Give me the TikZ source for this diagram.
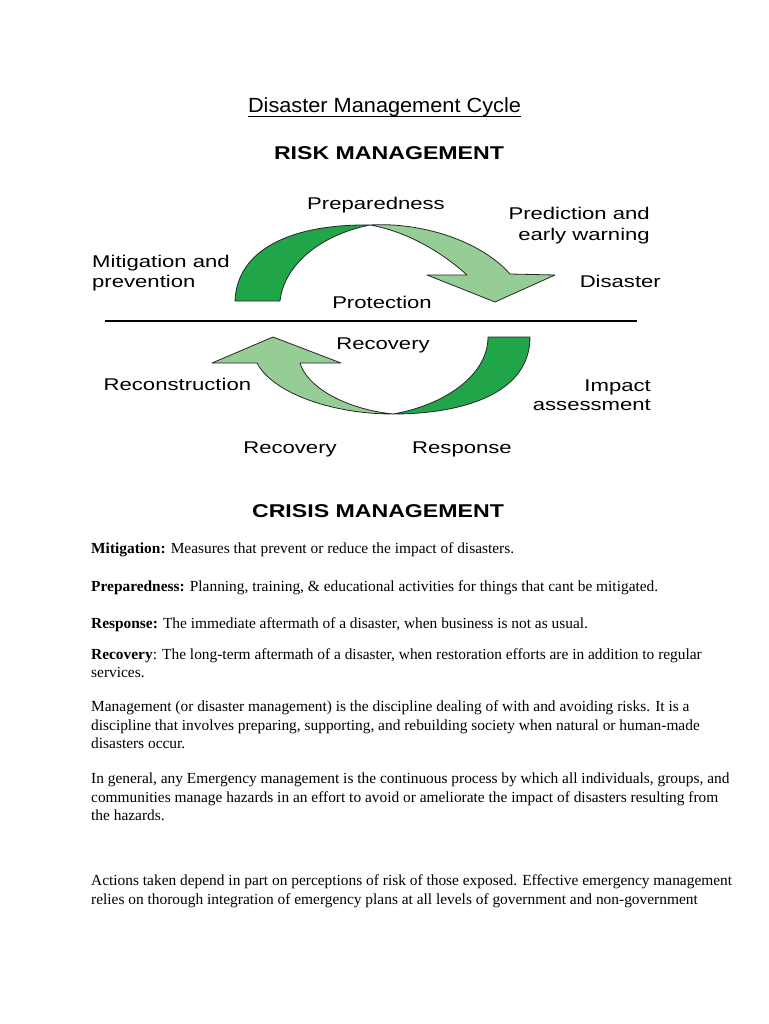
\documentclass[tikz,border=0pt]{standalone}
\usepackage{fontspec}
\setmainfont{Liberation Serif}
\newfontfamily\arialf{Liberation Sans}
\usepackage{graphicx}
\definecolor{dgreen}{RGB}{32,166,72}
\definecolor{lgreen}{RGB}{150,205,150}
\newcommand{\dl}[1]{\scalebox{1.3}[1]{#1}}
\newcommand{\hl}[1]{\scalebox{1.25}[1]{#1}}
\begin{document}
\begin{tikzpicture}[x=1pt,y=-1pt,
  body/.style={anchor=base west, inner sep=0pt, font=\fontsize{15.4}{18.6}\selectfont},
  dlab/.style={anchor=base, inner sep=0pt, font=\arialf\fontsize{17}{20}\selectfont},
  dlabr/.style={dlab, anchor=base east},
  dlabl/.style={dlab, anchor=base west},
  heading/.style={anchor=base, inner sep=0pt, font=\arialf\bfseries\fontsize{18.5}{22}\selectfont},
  darc/.style={fill=dgreen, draw=black!85, line width=0.8pt, line join=round},
  larc/.style={fill=lgreen, draw=black!85, line width=0.8pt, line join=round}]
\useasboundingbox[fill=white] (0,0) rectangle (768,1024);

% title
\node[anchor=base, inner sep=0pt, font=\arialf\fontsize{20.5}{24}\selectfont] (title) at (384.5,112.5) {\scalebox{1.06}[1]{Disaster Management Cycle}};
\coordinate (ulA) at (248,116.5);
\coordinate (ulB) at (521,116.5);
\draw[line width=1.5pt] (ulA) -- (ulB);

\node[heading] (risk) at (389,160) {\hl{RISK MANAGEMENT}};
\node[heading] (crisis) at (378,517) {\hl{CRISIS MANAGEMENT}};

% upper arrow (risk management)
\draw[darc] (235,301) .. controls (237,250) and (290,224) .. (370,225)
  .. controls (320,235) and (284,265) .. (280,301) -- cycle;
\draw[larc] (370,225) .. controls (420,222) and (480,240) .. (510,274)
  -- (555,275) -- (495,302) -- (427,275) -- (467,275)
  .. controls (445,255) and (410,232) .. (370,225) -- cycle;

% separator
\coordinate (sepA) at (105,321);
\coordinate (sepB) at (637,321);
\draw[line width=2.2pt] (sepA) -- (sepB);

% lower arrow (crisis management)
\draw[darc] (530,337) .. controls (530,395) and (460,414) .. (393,414)
  .. controls (445,405) and (488,375) .. (488,337) -- cycle;
\draw[larc] (393,414) .. controls (330,414) and (272,392) .. (257,363)
  -- (212,363) -- (273,337) -- (341,363) -- (300,363)
  .. controls (307,387) and (345,409) .. (393,414) -- cycle;

% diagram labels
\node[dlab] (prep) at (376,210) {\dl{Preparedness}};
\node[dlabr] (pred1) at (650,220) {\dl{Prediction and}};
\node[dlabr] (pred2) at (650,240.5) {\dl{early warning}};
\node[dlabl] (mit1) at (92,267) {\dl{Mitigation and}};
\node[dlabl] (mit2) at (92,287) {\dl{prevention}};
\node[dlabr] (dis) at (661,287) {\dl{Disaster}};
\node[dlab] (prot) at (382,308.5) {\dl{Protection}};
\node[dlab] (rec1) at (383,349) {\dl{Recovery}};
\node[dlabl] (recon) at (103.5,390) {\dl{Reconstruction}};
\node[dlabr] (imp1) at (651,391) {\dl{Impact}};
\node[dlabr] (imp2) at (651,410.5) {\dl{assessment}};
\node[dlab] (rec2) at (290,453.5) {\dl{Recovery}};
\node[dlab] (resp) at (462,453.5) {\dl{Response}};

% body text
\node[body] (b1) at (91,553) {\textbf{Mitigation:} Measures that prevent or reduce the impact of disasters.};
\node[body] (b2) at (91,591) {\textbf{Preparedness:} Planning, training, \& educational activities for things that cant be mitigated.};
\node[body] (b3) at (91,628) {\textbf{Response:} The immediate aftermath of a disaster, when business is not as usual.};
\node[body] (b4) at (91,659) {\textbf{Recovery}: The long-term aftermath of a disaster, when restoration efforts are in addition to regular};
\node[body] (b5) at (91,677.5) {services.};
\node[body] (b6) at (91,711.5) {Management (or disaster management) is the discipline dealing of with and avoiding risks. It is a};
\node[body] (b7) at (91,730) {discipline that involves preparing, supporting, and rebuilding society when natural or human-made};
\node[body] (b8) at (91,748.5) {disasters occur.};
\node[body] (b9) at (91,783.5) {In general, any Emergency management is the continuous process by which all individuals, groups, and};
\node[body] (b10) at (91,802) {communities manage hazards in an effort to avoid or ameliorate the impact of disasters resulting from};
\node[body] (b11) at (91,820.5) {the hazards.};
\node[body] (b12) at (91,885.5) {Actions taken depend in part on perceptions of risk of those exposed. Effective emergency management};
\node[body] (b13) at (91,904) {relies on thorough integration of emergency plans at all levels of government and non-government};
\end{tikzpicture}
\end{document}
